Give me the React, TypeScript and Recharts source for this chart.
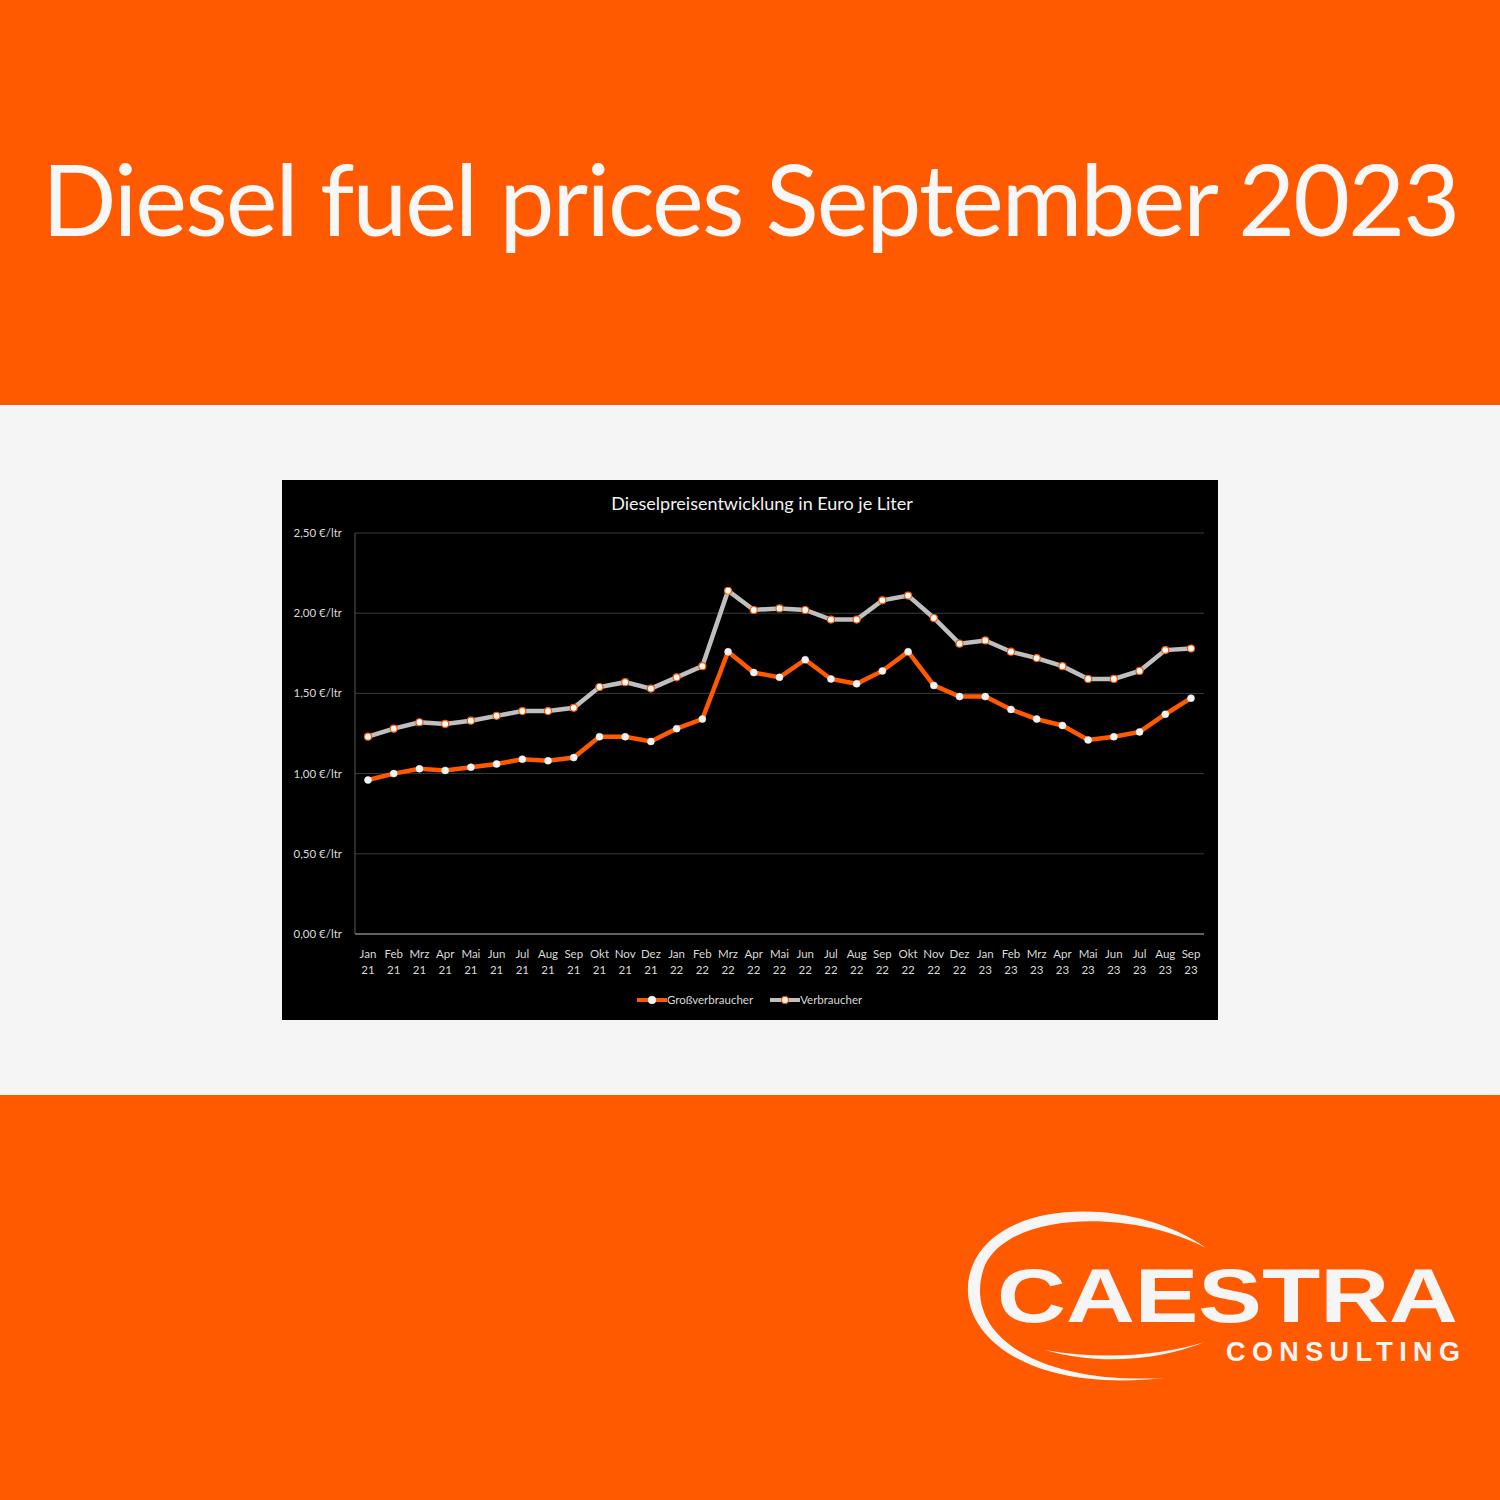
import React from "react";
import { LineChart, Line, XAxis, YAxis, CartesianGrid } from "recharts";

// Monatslabels: Monat + Jahr, im Chart zweizeilig
const monthLabels = [
  "Jan 21", "Feb 21", "Mrz 21", "Apr 21", "Mai 21", "Jun 21", "Jul 21", "Aug 21", "Sep 21", "Okt 21", "Nov 21", "Dez 21",
  "Jan 22", "Feb 22", "Mrz 22", "Apr 22", "Mai 22", "Jun 22", "Jul 22", "Aug 22", "Sep 22", "Okt 22", "Nov 22", "Dez 22",
  "Jan 23", "Feb 23", "Mrz 23", "Apr 23", "Mai 23", "Jun 23", "Jul 23", "Aug 23", "Sep 23",
];

const grossverbraucher = [
  0.96, 1.0, 1.03, 1.02, 1.04, 1.06, 1.09, 1.08, 1.1, 1.23, 1.23, 1.2,
  1.28, 1.34, 1.76, 1.63, 1.6, 1.71, 1.59, 1.56, 1.64, 1.76, 1.55, 1.48,
  1.48, 1.4, 1.34, 1.3, 1.21, 1.23, 1.26, 1.37, 1.47,
];

const verbraucher = [
  1.23, 1.28, 1.32, 1.31, 1.33, 1.36, 1.39, 1.39, 1.41, 1.54, 1.57, 1.53,
  1.6, 1.67, 2.14, 2.02, 2.03, 2.02, 1.96, 1.96, 2.08, 2.11, 1.97, 1.81,
  1.83, 1.76, 1.72, 1.67, 1.59, 1.59, 1.64, 1.77, 1.78,
];

const yTicks = [0, 0.5, 1, 1.5, 2, 2.5];

const seriesNames = ["Großverbraucher", "Verbraucher"];

const ORANGE = "#ff5a00";
const GREY = "#bfbfbf";
const TEXT = "#d9d9d9";
const FONT = "Lato, 'Open Sans', sans-serif";
const LOGO_FONT = "'Liberation Sans', Arial, sans-serif";

const data = monthLabels.map((label, i) => ({
  label,
  gross: grossverbraucher[i],
  verb: verbraucher[i],
}));

const MonthTick = ({ x, y, payload }: any) => {
  const [m, yr] = String(payload.value).split(" ");
  return (
    <text x={x} y={y} textAnchor="middle" fill={TEXT} fontSize={11.5} fontFamily={FONT}>
      <tspan x={x} dy={22}>{m}</tspan>
      <tspan x={x} dy={16}>{yr}</tspan>
    </text>
  );
};

const euro = (v: number) => v.toFixed(2).replace(".", ",") + " €/ltr";

const LegendItem = ({ color, dotStroke, label }: any) => (
  <div style={{ display: "flex", alignItems: "center", marginRight: 17 }}>
    <svg width={30} height={10}>
      <line x1={0} y1={5} x2={30} y2={5} stroke={color} strokeWidth={4} />
      <circle cx={15} cy={5} r={3.5} fill="#f2f2f2" stroke={dotStroke} strokeWidth={1.2} />
    </svg>
    <span style={{ color: TEXT, fontSize: 11.5, fontFamily: FONT }}>{label}</span>
  </div>
);

const Logo = () => (
  <g fill="#f5f5f5">
    {/* Swoosh um den Schriftzug */}
    <path d="M 1206 1248 C 1140 1200 1010 1195 975 1260 C 945 1320 1010 1395 1165 1378 C 1030 1385 960 1330 985 1265 C 1010 1212 1130 1208 1206 1248 Z" />
    <path d="M 1045 1350 C 1100 1360 1160 1356 1205 1342 C 1160 1360 1100 1366 1045 1350 Z" />
    <text x={997} y={1322} textLength={461} lengthAdjust="spacingAndGlyphs" fontSize={76} fontWeight={700} fontFamily={LOGO_FONT}>
      CAESTRA
    </text>
    <text x={1226} y={1361} textLength={234} lengthAdjust="spacing" fontSize={27} fontWeight={700} fontFamily={LOGO_FONT}>
      CONSULTING
    </text>
  </g>
);

export default function App() {
  return (
    <div style={{ position: "absolute", left: 0, top: 0, width: 1500, height: 1500 }}>
      <svg width={1500} height={1500} style={{ position: "absolute", left: 0, top: 0 }}>
        <rect x={0} y={0} width={1500} height={405} fill={ORANGE} />
        <rect x={0} y={405} width={1500} height={690} fill="#f5f5f5" />
        <rect x={0} y={1095} width={1500} height={405} fill={ORANGE} />
        <text x={42} y={236} textLength={1418} lengthAdjust="spacing" fill="#f7f7f7" fontSize={98} fontWeight={400} fontFamily={FONT}>
          Diesel fuel prices September 2023
        </text>
        <Logo />
      </svg>

      <div style={{ position: "absolute", left: 282, top: 480, width: 936, height: 540, background: "#000" }}>
        <div
          style={{
            position: "absolute", left: 0, top: 492 - 480, width: 936 + 24, textAlign: "center",
            color: "#f2f2f2", fontSize: 18, fontFamily: FONT,
          }}
        >
          Dieselpreisentwicklung in Euro je Liter
        </div>
        <LineChart width={936} height={540} data={data} margin={{ top: 53, right: 14, bottom: 36, left: 0 }}>
          <CartesianGrid vertical={false} stroke="#3a3a3a" />
          <XAxis
            dataKey="label"
            interval={0}
            height={50}
            padding={{ left: 13, right: 13 }}
            tick={<MonthTick />}
            tickLine={false}
            tickSize={0}
            axisLine={{ stroke: "#a6a6a6" }}
          />
          <YAxis
            type="number"
            domain={[0, 2.5]}
            ticks={yTicks}
            width={73}
            tickFormatter={euro}
            tickLine={false}
            tickSize={0}
            tickMargin={13}
            axisLine={{ stroke: "#595959" }}
            tick={{ fill: TEXT, fontSize: 11.5, fontFamily: FONT }}
          />
          <Line
            type="linear"
            dataKey="gross"
            name={seriesNames[0]}
            stroke={ORANGE}
            strokeWidth={4.5}
            dot={{ r: 3.5, fill: "#f2f2f2", stroke: "#f2f2f2", strokeWidth: 0.5 }}
            isAnimationActive={false}
          />
          <Line
            type="linear"
            dataKey="verb"
            name={seriesNames[1]}
            stroke={GREY}
            strokeWidth={4.5}
            dot={{ r: 3.5, fill: "#ffffff", stroke: ORANGE, strokeWidth: 1.2 }}
            isAnimationActive={false}
          />
        </LineChart>
        <div style={{ position: "absolute", left: 355, top: 993 - 480, display: "flex" }}>
          <LegendItem color={ORANGE} dotStroke="#f2f2f2" label={seriesNames[0]} />
          <LegendItem color={GREY} dotStroke={ORANGE} label={seriesNames[1]} />
        </div>
      </div>
    </div>
  );
}
